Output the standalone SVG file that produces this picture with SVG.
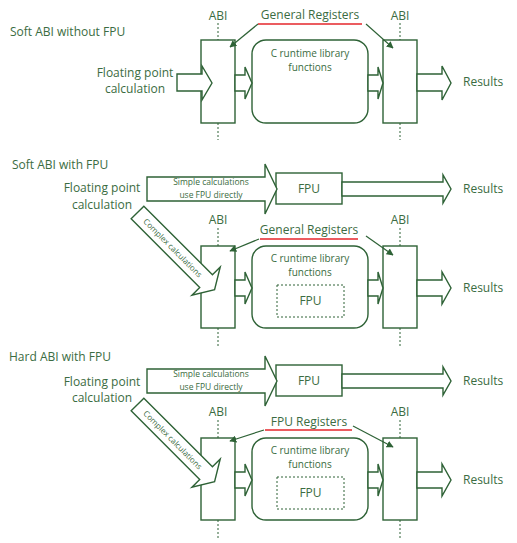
<svg xmlns="http://www.w3.org/2000/svg" width="517" height="543" viewBox="0 0 517 543">
<defs>
<style>
text{font-family:"Open Sans","Noto Sans",sans-serif;fill:#3b6c42}
.t12{font-size:12px}
.t10{font-size:10px}
.t9{font-size:8.5px}
.t8{font-size:8px}
.m{text-anchor:middle}
.box{fill:#fff;stroke:#2e6236;stroke-width:1.4}
.arr{fill:#fff;stroke:#2e6236;stroke-width:1.4;stroke-linejoin:miter}
.dash{fill:none;stroke:#2e6236;stroke-width:1;stroke-dasharray:2,2}
.dbox{fill:#fff;stroke:#2e6236;stroke-width:1;stroke-dasharray:2,2}
.lead{stroke:#2e6236;stroke-width:1.2;fill:none;marker-end:url(#ah)}
.red{stroke:#e4262b;stroke-width:1.6}
</style>
<marker id="ah" viewBox="0 0 10 10" refX="9" refY="5" markerWidth="7" markerHeight="7" orient="auto" markerUnits="userSpaceOnUse">
<path d="M0,0 L10,5 L0,10 Z" fill="#2e6236"/>
</marker>
</defs>

<!-- Section 1 -->
<g id="title1"><text class="t12" x="10" y="36">Soft ABI without FPU</text></g>
<g id="fp1"><text class="t12 m" x="135" y="77">Floating point</text><text class="t12 m" x="135" y="93">calculation</text></g>
<g id="abiL1">
<text class="t12 m" x="218" y="20">ABI</text>
<line class="dash" x1="218" y1="23" x2="218" y2="40"/>
<line class="dash" x1="218" y1="123" x2="218" y2="140"/>
<rect class="box" x="201" y="40" width="34" height="83"/>
</g>
<g id="rt1">
<rect class="box" x="252" y="40" width="116" height="83" rx="14"/>
<text class="t10 m" x="310" y="57">C runtime library</text>
<text class="t10 m" x="310" y="71">functions</text>
</g>
<g id="abiR1">
<text class="t12 m" x="400" y="20">ABI</text>
<line class="dash" x1="400" y1="23" x2="400" y2="40"/>
<line class="dash" x1="400" y1="123" x2="400" y2="140"/>
<rect class="box" x="383" y="40" width="34" height="83"/>
</g>
<g id="gr1">
<text class="t12 m" x="310" y="19">General Registers</text>
<line class="red" x1="258" y1="24" x2="362" y2="24"/>
</g>
<g id="res1"><text class="t12" x="463" y="86">Results</text></g>

<!-- Section 2 -->
<g id="title2"><text class="t12" x="12" y="169">Soft ABI with FPU</text></g>
<g id="fp2"><text class="t12 m" x="102" y="192">Floating point</text><text class="t12 m" x="102" y="209">calculation</text></g>
<g id="fpu2">
<rect class="box" x="276" y="173" width="66" height="31"/>
<text class="t12 m" x="309" y="193">FPU</text>
</g>
<g id="res2a"><text class="t12" x="463" y="193">Results</text></g>
<g id="abiL2">
<text class="t12 m" x="218" y="224">ABI</text>
<line class="dash" x1="218" y1="228" x2="218" y2="246"/>
<line class="dash" x1="218" y1="328" x2="218" y2="346"/>
<rect class="box" x="201" y="246" width="34" height="82"/>
</g>
<g id="rt2">
<rect class="box" x="252" y="246" width="116" height="82" rx="14"/>
<text class="t10 m" x="310" y="262">C runtime library</text>
<text class="t10 m" x="310" y="276">functions</text>
<rect class="dbox" x="277" y="285" width="67" height="32"/>
<text class="t12 m" x="310.5" y="305">FPU</text>
</g>
<g id="abiR2">
<text class="t12 m" x="400" y="224">ABI</text>
<line class="dash" x1="400" y1="228" x2="400" y2="246"/>
<line class="dash" x1="400" y1="328" x2="400" y2="346"/>
<rect class="box" x="383" y="246" width="34" height="82"/>
</g>
<g id="gr2">
<text class="t12 m" x="309" y="234">General Registers</text>
<line class="red" x1="260" y1="239" x2="358" y2="239"/>
</g>
<g id="res2b"><text class="t12" x="463" y="292">Results</text></g>

<!-- Section 3 -->
<g id="title3"><text class="t12" x="9" y="361">Hard ABI with FPU</text></g>
<g id="fp3"><text class="t12 m" x="102" y="386">Floating point</text><text class="t12 m" x="102" y="402">calculation</text></g>
<g id="fpu3">
<rect class="box" x="276" y="365" width="66" height="31"/>
<text class="t12 m" x="309" y="385">FPU</text>
</g>
<g id="res3a"><text class="t12" x="463" y="385">Results</text></g>
<g id="abiL3">
<text class="t12 m" x="218" y="416">ABI</text>
<line class="dash" x1="218" y1="420" x2="218" y2="438"/>
<line class="dash" x1="218" y1="520" x2="218" y2="538"/>
<rect class="box" x="201" y="438" width="34" height="82"/>
</g>
<g id="rt3">
<rect class="box" x="252" y="438" width="116" height="82" rx="14"/>
<text class="t10 m" x="310" y="454">C runtime library</text>
<text class="t10 m" x="310" y="468">functions</text>
<rect class="dbox" x="277" y="477" width="67" height="32"/>
<text class="t12 m" x="310.5" y="497">FPU</text>
</g>
<g id="abiR3">
<text class="t12 m" x="400" y="416">ABI</text>
<line class="dash" x1="400" y1="420" x2="400" y2="438"/>
<line class="dash" x1="400" y1="520" x2="400" y2="538"/>
<rect class="box" x="383" y="438" width="34" height="82"/>
</g>
<g id="gr3">
<text class="t12 m" x="309" y="426">FPU Registers</text>
<line class="red" x1="265" y1="430" x2="352" y2="430"/>
</g>
<g id="res3b"><text class="t12" x="463" y="484">Results</text></g>

<!-- Connectors -->
<g id="connectors">
<!-- section 1 -->
<polygon class="arr" points="177,74 202,74 202,66 212,83 202,100 202,91 177,91"/>
<polygon class="arr" points="235,75 245,75 245,67 252,83 245,99 245,91 235,91"/>
<polygon class="arr" points="368,75 378,75 378,67 383,83 378,99 378,91 368,91"/>
<polygon class="arr" points="417,74 442,74 442,66 451,83 442,100 442,91 417,91"/>
<line class="lead" x1="258" y1="24" x2="230" y2="47"/>
<line class="lead" x1="366" y1="24" x2="393" y2="48"/>
<!-- section 2 -->
<polygon class="arr" points="147,177 265,177 265,164 277,189 265,214 265,201 147,201"/>
<text class="t9 m" x="211" y="185">Simple calculations</text>
<text class="t9 m" x="211" y="197.5">use FPU directly</text>
<polygon class="arr" points="342,182 443,182 443,175 451,189 443,203 443,196 342,196"/>
<g transform="translate(137.5,212.5) rotate(45)">
<polygon class="arr" points="0,-9 97,-9 97,-20 109,0 97,20 97,9 0,9"/>
<text class="t8 m" x="50" y="3">Complex calculations</text>
</g>
<polygon class="arr" points="235,280 245,280 245,272 252,288 245,304 245,296 235,296"/>
<polygon class="arr" points="368,280 378,280 378,272 383,288 378,304 378,296 368,296"/>
<polygon class="arr" points="417,280 442,280 442,272 451,288 442,304 442,296 417,296"/>
<line class="lead" x1="259" y1="239" x2="230" y2="251"/>
<line class="lead" x1="366" y1="236" x2="393" y2="255"/>
<!-- section 3 -->
<polygon class="arr" points="147,369 265,369 265,356 277,381 265,406 265,393 147,393"/>
<text class="t9 m" x="211" y="377">Simple calculations</text>
<text class="t9 m" x="211" y="389.5">use FPU directly</text>
<polygon class="arr" points="342,374 443,374 443,367 451,381 443,395 443,388 342,388"/>
<g transform="translate(137.5,404.5) rotate(45)">
<polygon class="arr" points="0,-9 97,-9 97,-20 109,0 97,20 97,9 0,9"/>
<text class="t8 m" x="50" y="3">Complex calculations</text>
</g>
<polygon class="arr" points="235,472 245,472 245,464 252,480 245,496 245,488 235,488"/>
<polygon class="arr" points="368,472 378,472 378,464 383,480 378,496 378,488 368,488"/>
<polygon class="arr" points="417,472 442,472 442,464 451,480 442,496 442,488 417,488"/>
<line class="lead" x1="264" y1="430" x2="230" y2="441"/>
<line class="lead" x1="353" y1="426" x2="393" y2="447"/>
</g>
</svg>
